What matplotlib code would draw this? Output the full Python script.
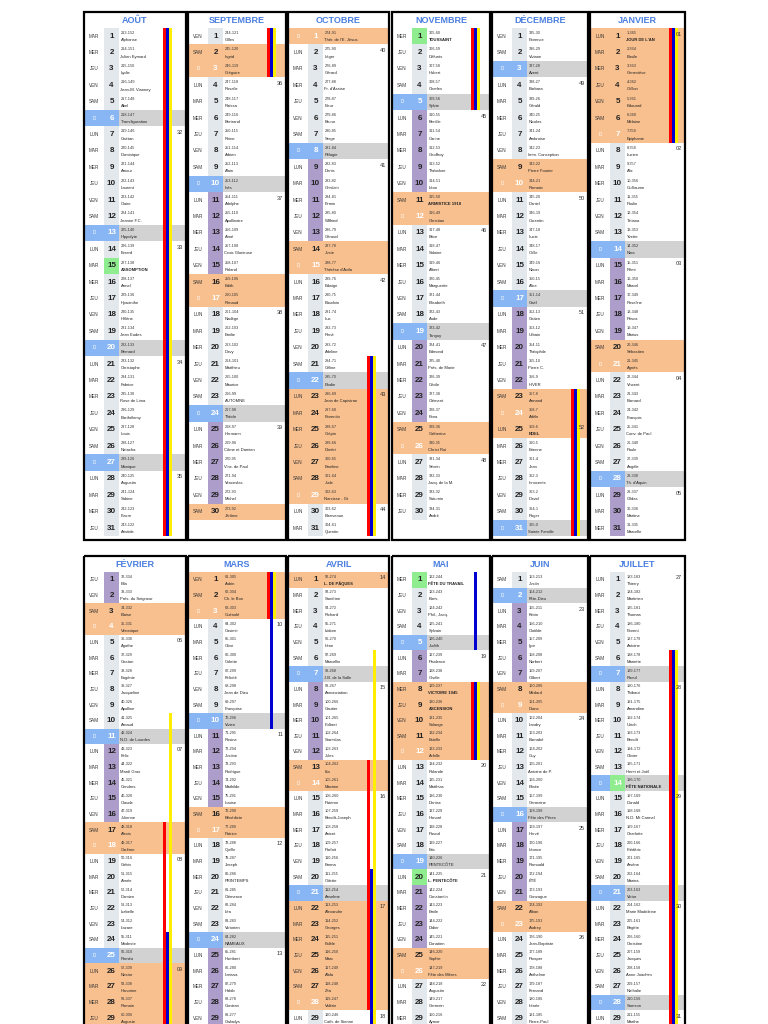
import datetime as dt
import matplotlib
matplotlib.use("Agg")
import matplotlib.pyplot as plt
from matplotlib.patches import Rectangle

plt.rcParams['font.family'] = ['Liberation Sans', 'DejaVu Sans']

# ---------------- data ----------------
month_names = ["AOÛT", "SEPTEMBRE", "OCTOBRE", "NOVEMBRE", "DÉCEMBRE", "JANVIER",
               "FÉVRIER", "MARS", "AVRIL", "MAI", "JUIN", "JUILLET"]
month_years = [2023, 2023, 2023, 2023, 2023, 2024, 2024, 2024, 2024, 2024, 2024, 2024]
month_nums = [8, 9, 10, 11, 12, 1, 2, 3, 4, 5, 6, 7]
weekday_labels = ["LUN", "MAR", "MER", "JEU", "VEN", "SAM", "D"]

saints = [
    ["Alphonse", "Julien Eymard", "Lydie", "Jean-M. Vianney", "Abel", "Transfiguration", "Gaëtan",
     "Dominique", "Amour", "Laurent", "Claire", "Jeanne F.C.", "Hippolyte", "Evrard", "ASSOMPTION",
     "Armel", "Hyacinthe", "Hélène", "Jean Eudes", "Bernard", "Christophe", "Fabrice", "Rose de Lima",
     "Barthélemy", "Louis", "Natacha", "Monique", "Augustin", "Sabine", "Fiacre", "Aristide"],
    ["Gilles", "Ingrid", "Grégoire", "Rosalie", "Raïssa", "Bertrand", "Reine", "Adrien", "Alain",
     "Inès", "Adelphe", "Apollinaire", "Aimé", "Croix Glorieuse", "Roland", "Edith", "Renaud",
     "Nadège", "Emilie", "Davy", "Matthieu", "Maurice", "AUTOMNE", "Thècle", "Hermann",
     "Côme et Damien", "Vinc. de Paul", "Venceslas", "Michel", "Jérôme"],
    ["Thér. de l'E. Jésus", "Léger", "Gérard", "Fr. d'Assise", "Fleur", "Bruno", "Serge", "Pélagie",
     "Denis", "Ghislain", "Firmin", "Wilfried", "Géraud", "Juste", "Thérèse d'Avila", "Edwige",
     "Baudoin", "Luc", "René", "Adeline", "Céline", "Elodie", "Jean de Capistran", "Florentin",
     "Crépin", "Dimitri", "Emeline", "Jude", "Narcisse - Gt", "Bienvenue", "Quentin"],
    ["TOUSSAINT", "Défunts", "Hubert", "Charles", "Sylvie", "Bertille", "Carine", "Geoffroy",
     "Théodore", "Léon", "ARMISTICE 1918", "Christian", "Brice", "Sidoine", "Albert", "Marguerite",
     "Elisabeth", "Aude", "Tanguy", "Edmond", "Prés. de Marie", "Cécile", "Clément", "Flora",
     "Catherine", "Christ Roi", "Sévrin", "Jacq. de la M.", "Saturnin", "André"],
    ["Florence", "Viviane", "Avent", "Barbara", "Gérald", "Nicolas", "Ambroise", "Imm. Conception",
     "Pierre Fourier", "Romaric", "Daniel", "Corentin", "Lucie", "Odile", "Ninon", "Alice", "Gaël",
     "Gatien", "Urbain", "Théophile", "Pierre C.", "HIVER", "Armand", "Adèle", "NOËL", "Etienne",
     "Jean", "Innocents", "David", "Roger", "Sainte Famille"],
    ["JOUR DE L'AN", "Basile", "Geneviève", "Odilon", "Edouard", "Mélaine", "Epiphanie", "Lucien",
     "Alix", "Guillaume", "Paulin", "Tatiana", "Yvette", "Nina", "Rémi", "Marcel", "Roseline",
     "Prisca", "Marius", "Sébastien", "Agnès", "Vincent", "Barnard", "François", "Conv. de Paul",
     "Paule", "Angèle", "Th. d'Aquin", "Gildas", "Martine", "Marcelle"],
    ["Ella", "Prés. du Seigneur", "Blaise", "Véronique", "Agathe", "Gaston", "Eugénie", "Jacqueline",
     "Apolline", "Arnaud", "N.D. de Lourdes", "Félix", "Mardi Gras", "Cendres", "Claude", "Julienne",
     "Alexis", "Carême", "Gabin", "Aimée", "Damien", "Isabelle", "Lazare", "Modeste", "Roméo",
     "Nestor", "Honorine", "Romain", "Auguste"],
    ["Aubin", "Ch. le Bon", "Guénolé", "Casimir", "Olive", "Colette", "Félicité", "Jean de Dieu",
     "Françoise", "Vivien", "Rosine", "Justine", "Rodrigue", "Mathilde", "Louise", "Bénédicte",
     "Patrice", "Cyrille", "Joseph", "PRINTEMPS", "Clémence", "Léa", "Victorien", "RAMEAUX",
     "Humbert", "Larissa", "Habib", "Gontran", "Gwladys", "Amédée", "Benjamin"],
    ["L. DE PÂQUES", "Sandrine", "Richard", "Isidore", "Irène", "Marcellin", "J.B. de la Salle",
     "Annonciation", "Gautier", "Fulbert", "Stanislas", "Jules", "Ida", "Maxime", "Paterne",
     "Benoît-Joseph", "Anicet", "Parfait", "Emma", "Odette", "Anselme", "Alexandre", "Georges",
     "Fidèle", "Marc", "Alida", "Zita", "Valérie", "Cath. de Sienne", "Robert"],
    ["FÊTE DU TRAVAIL", "Boris", "Phil., Jacq.", "Sylvain", "Judith", "Prudence", "Gisèle",
     "VICTOIRE 1945", "ASCENSION", "Solange", "Estelle", "Achille", "Rolande", "Matthias", "Denise",
     "Honoré", "Pascal", "Eric", "PENTECÔTE", "L. PENTECÔTE", "Constantin", "Emile", "Didier",
     "Donatien", "Sophie", "Fête des Mères", "Augustin", "Germain", "Aymar", "Ferdinand", "Visitation"],
    ["Justin", "Fête-Dieu", "Kévin", "Clotilde", "Igor", "Norbert", "Gilbert", "Médard", "Diane",
     "Landry", "Barnabé", "Guy", "Antoine de P.", "Elisée", "Germaine", "Fête des Pères", "Hervé",
     "Léonce", "Romuald", "ÉTÉ", "Gonzague", "Alban", "Audrey", "Jean-Baptiste", "Prosper",
     "Anthelme", "Fernand", "Irénée", "Pierre-Paul", "Martial"],
    ["Thierry", "Martinien", "Thomas", "Florent", "Antoine", "Mariette", "Raoul", "Thibaut",
     "Amandine", "Ulrich", "Benoît", "Olivier", "Henri et Joël", "FÊTE NATIONALE", "Donald",
     "N.D. Mt Carmel", "Charlotte", "Frédéric", "Arsène", "Marina", "Victor", "Marie Madeleine",
     "Brigitte", "Christine", "Jacques", "Anne Joachim", "Nathalie", "Samson", "Marthe", "Juliette",
     "Ignace"],
]
bold_events = ["ASSOMPTION", "TOUSSAINT", "ARMISTICE 1918", "NOËL", "JOUR DE L'AN", "L. DE PÂQUES",
               "FÊTE DU TRAVAIL", "VICTOIRE 1945", "ASCENSION", "L. PENTECÔTE", "FÊTE NATIONALE"]

orange_days = [[], [2, 3, 16, 17, 30], [1, 14, 15, 23, 24, 25, 26, 27, 28, 29], [11, 12, 25, 26],
               [9, 10, 23, 24, 25], [1, 2, 3, 4, 5, 6, 7, 20, 21], [3, 4, 17, 18, 26, 27, 28, 29],
               [1, 2, 3, 16, 17], [1, 13, 14, 22, 23, 24, 25, 26, 27, 28], [8, 9, 10, 11, 12, 25, 26],
               [8, 9, 22, 23], []]
purple_days = [[], [11, 12, 13, 14, 15, 25, 26, 27, 28, 29], [9, 10, 11, 12, 13],
               [6, 7, 8, 9, 10, 20, 21, 22, 23, 24], [18, 19, 20, 21, 22], [15, 16, 17, 18, 19, 29, 30, 31],
               [1, 2, 12, 13, 14, 15, 16], [11, 12, 13, 14, 15, 25, 26, 27, 28, 29], [8, 9, 10, 11, 12],
               [6, 7, 21, 22, 23, 24], [3, 4, 5, 6, 7, 17, 18, 19, 20, 21], []]
green_days = [[15], [], [], [1], [], [], [], [], [], [1, 20], [], [14]]

# zone stripes: (first day, last day) per zone  A=red, B=blue, C=yellow
zone_red = [[(1, 31)], [(1, 3)], [(21, 31)], [(1, 5)], [(23, 31)], [(1, 7)], [(17, 29)], [(1, 3)],
            [(13, 28)], [(8, 12)], [], [(6, 31)]]
zone_blue = [[(1, 31)], [(1, 3)], [(21, 31)], [(1, 5)], [(23, 31)], [(1, 7)], [(24, 29)], [(1, 10)],
             [(20, 30)], [(1, 5), (8, 12)], [], [(6, 31)]]
zone_yellow = [[(1, 31)], [(1, 3)], [(21, 31)], [(1, 5)], [(23, 31)], [(1, 7)], [(10, 29)], [(1, 3)],
               [(6, 29)], [(8, 12)], [], [(6, 31)]]

# ---------------- drawing ----------------
W, H = 768, 1024
fig = plt.figure(figsize=(W / 100, H / 100), dpi=100)
ax = fig.add_axes([0, 0, 1, 1])
ax.set_xlim(0, W)
ax.set_ylim(H, 0)
ax.axis('off')

col_x = [(84, 186), (188, 286), (288, 389), (392, 490), (492, 588), (590, 685)]
rows_geom = [dict(top=12, head=16, rh=16.4, bottom=540), dict(top=556, head=16, rh=15.65, bottom=1040)]

ORANGE = "#f9c08f"
GREY = "#d2d2d2"
BLUE = "#88b6f4"
PURPLE = "#ad9dca"
NUMCOL = "#e3e8ec"
GREEN = "#8fec8f"

for m in range(12):
    g = rows_geom[m // 6]
    x0, x1 = col_x[m % 6]
    y_top = g['top']
    y0 = y_top + g['head']
    rh = g['rh']
    yr, mo = month_years[m], month_nums[m]
    nd = len(saints[m])
    ax.add_patch(Rectangle((x0, y_top), x1 - x0, g['bottom'] - y_top, facecolor='white',
                           edgecolor='none', zorder=0))
    ax.text((x0 + x1) / 2, y_top + 8.5, month_names[m], ha='center', va='center',
            fontsize=6.5, fontweight='bold', color='#4a7fe0', zorder=5)
    for d in range(1, nd + 1):
        date = dt.date(yr, mo, d)
        wd = date.weekday()
        yt = y0 + (d - 1) * rh
        yc = yt + rh / 2
        sunday = wd == 6
        orange = d in orange_days[m]
        if orange:
            ax.add_patch(Rectangle((x0, yt), x1 - x0, rh, facecolor=ORANGE, edgecolor='none', zorder=1))
        elif sunday:
            ax.add_patch(Rectangle((x0, yt), 35, rh, facecolor=BLUE, edgecolor='none', zorder=1))
            ax.add_patch(Rectangle((x0 + 35, yt), x1 - x0 - 35, rh, facecolor=GREY, edgecolor='none', zorder=1))
        if not orange and not sunday:
            c = NUMCOL
            if d in purple_days[m]:
                c = PURPLE
            if d in green_days[m]:
                c = GREEN
            ax.add_patch(Rectangle((x0 + 20, yt), 15, rh, facecolor=c, edgecolor='none', zorder=1))
        elif d in green_days[m]:
            ax.add_patch(Rectangle((x0 + 20, yt), 15, rh, facecolor=GREEN, edgecolor='none', zorder=1))
        tcol = 'white' if sunday else '#333333'
        ax.text(x0 + 10, yc, weekday_labels[wd], ha='center', va='center', fontsize=3.3,
                color=tcol, zorder=5)
        ax.text(x0 + 27.5, yc, str(d), ha='center', va='center', fontsize=5.8,
                fontweight='bold', color='white' if sunday else '#222222', zorder=5)
        doy = date.timetuple().tm_yday
        ylen = 366 if yr % 4 == 0 else 365
        ax.text(x0 + 36.5, yt + rh * 0.3, f"{doy}-{ylen - doy}", ha='left', va='center',
                fontsize=2.8, color='#333333', zorder=5)
        name = saints[m][d - 1]
        ax.text(x0 + 36.5, yt + rh * 0.75, name, ha='left', va='center', fontsize=3.0,
                color='#222222', fontweight='bold' if name in bold_events else 'normal', zorder=5)
        if wd == 0:
            ax.text(x1 - 3, yc - 2, f"{date.isocalendar()[1]:02d}", ha='right', va='center',
                    fontsize=4.0, color='#333333', zorder=5)
    # zone stripes
    for zones, col, off in ((zone_red, 'red', 0), (zone_blue, '#0000d0', 3), (zone_yellow, '#ffee00', 6)):
        for a, b in zones[m]:
            ys = y0 + (a - 1) * rh
            ye = y0 + b * rh
            ax.add_patch(Rectangle((x0 + 79 + off, ys), 3, ye - ys, facecolor=col,
                                   edgecolor='none', zorder=3))
    ax.add_patch(Rectangle((x0, y_top), x1 - x0, g['bottom'] - y_top, facecolor='none',
                           edgecolor='black', lw=1.6, zorder=6))

fig.savefig("out.png", dpi=100, facecolor='white')
